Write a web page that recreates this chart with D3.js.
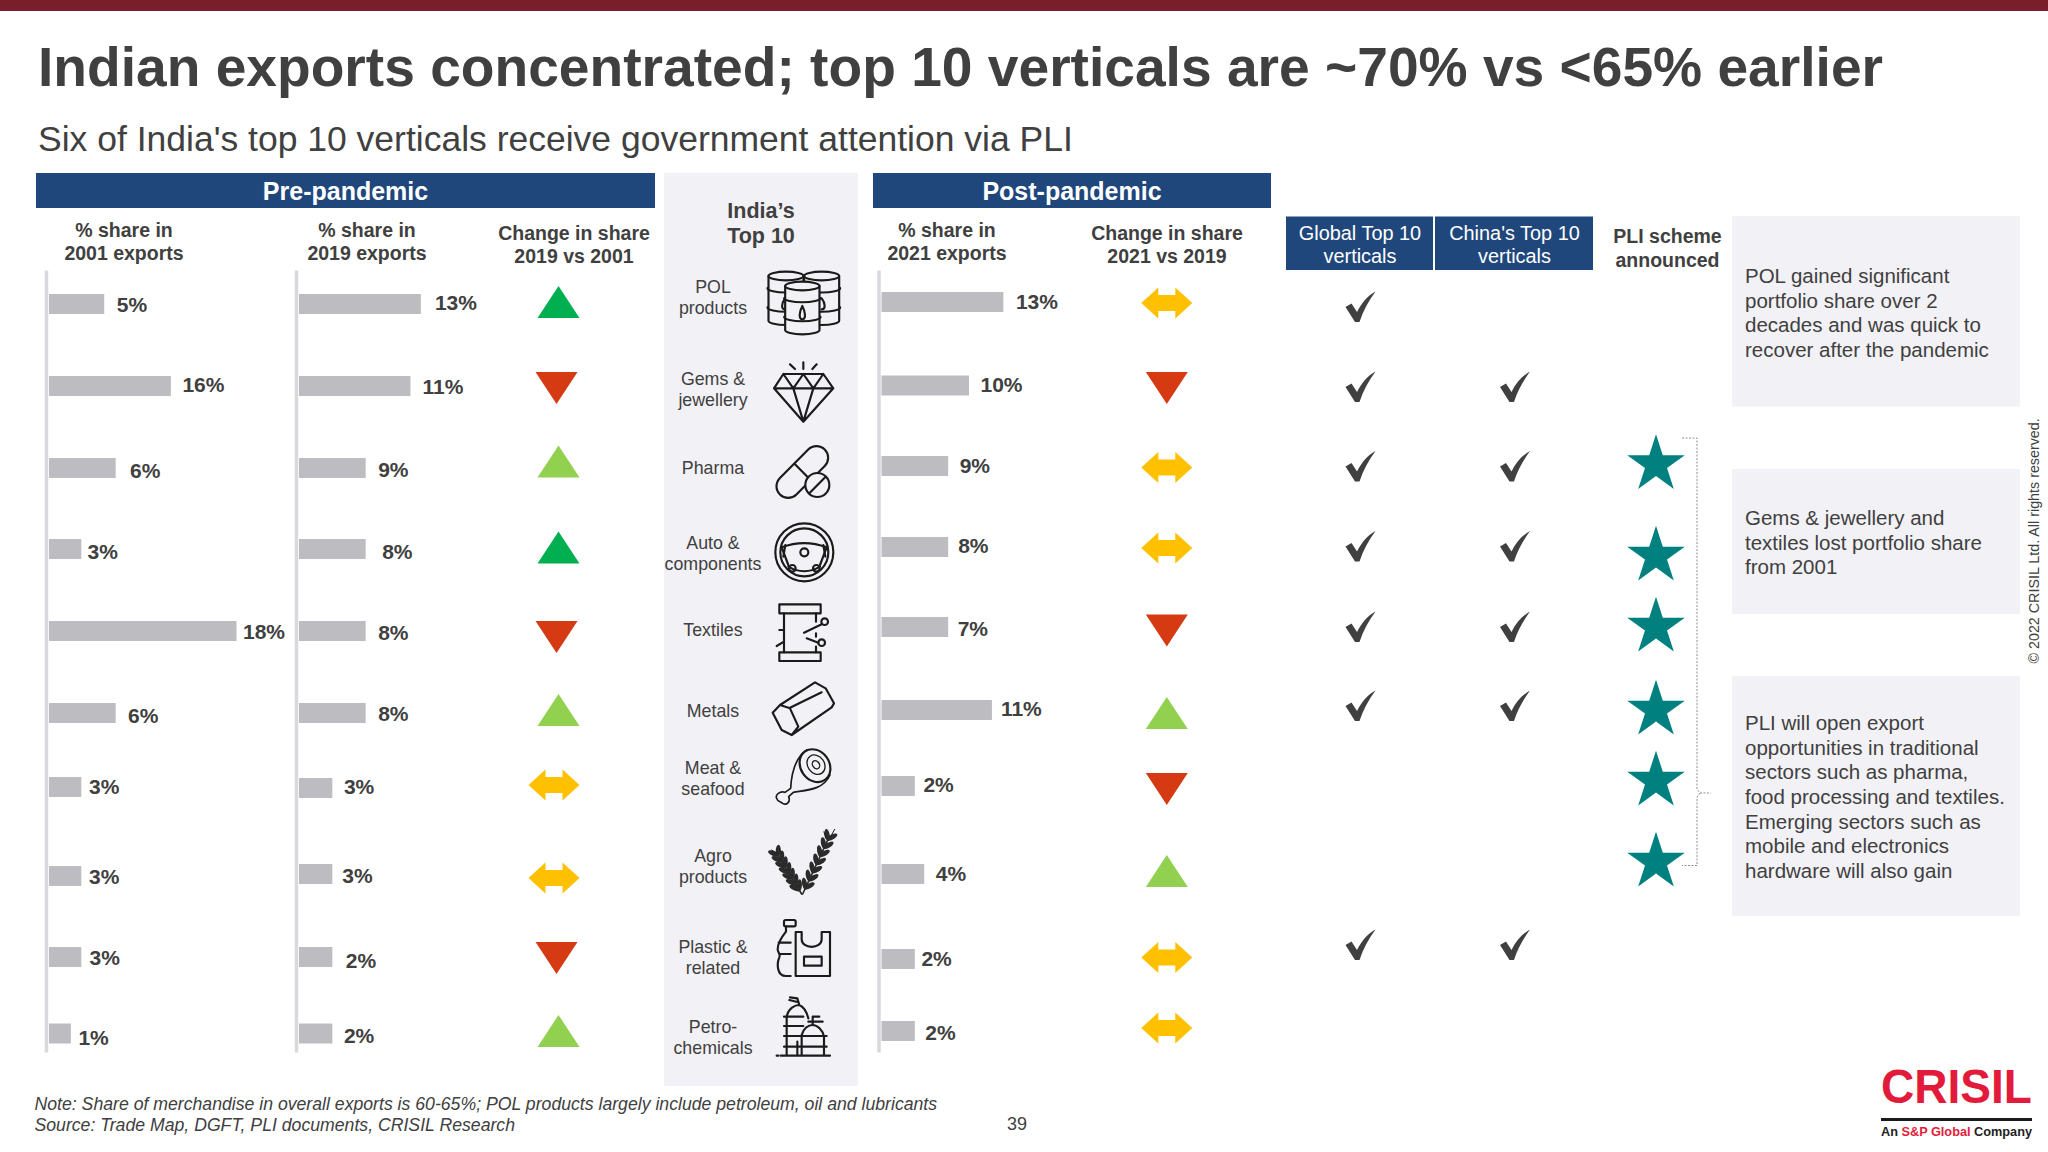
<!DOCTYPE html>
<html><head><meta charset="utf-8">
<script src="https://cdn.jsdelivr.net/npm/d3@7"></script>
<style>html,body{margin:0;padding:0;background:#fff}svg{display:block}text{font-family:"Liberation Sans",Arial,sans-serif}</style>
</head><body><div id="chart"></div>
<script>
// ---------- data ----------
const verticals = ["POL products","Gems & jewellery","Pharma","Auto & components","Textiles","Metals","Meat & seafood","Agro products","Plastic & related","Petro-chemicals"];
const verticalLines = [["POL","products"],["Gems &","jewellery"],["Pharma"],["Auto &","components"],["Textiles"],["Metals"],["Meat &","seafood"],["Agro","products"],["Plastic &","related"],["Petro-","chemicals"]];
// printed labels
const label2001 = ["5%","16%","6%","3%","18%","6%","3%","3%","3%","1%"];
const label2019 = ["13%","11%","9%","8%","8%","8%","3%","3%","2%","2%"];
const label2021 = ["13%","10%","9%","8%","7%","11%","2%","4%","2%","2%"];
// bar lengths as drawn in the picture (the slide's bars are schematic), in % units
const drawn2001 = [5.3,11.7,6.4,3.1,18,6.4,3.1,3.1,3.1,2.1];
const drawn2019 = [11.7,10.7,6.4,6.4,6.4,6.4,3.2,3.2,3.2,3.2];
const drawn2021 = [11.7,8.4,6.4,6.4,6.4,10.6,3.2,4.1,3.2,3.2];
// change in share: up = strong gain, gain = mild gain, down = loss, flat = unchanged
const change2019 = ["up","down","gain","up","down","gain","flat","flat","down","gain"];
const change2021 = ["flat","down","flat","flat","down","gain","down","gain","flat","flat"];
const globalTop10 = [1,1,1,1,1,1,0,0,1,0];
const chinaTop10  = [0,1,1,1,1,1,0,0,1,0];
const pliScheme   = [0,0,1,1,1,1,1,1,0,0];
const notes = [
 ["POL gained significant","portfolio share over 2","decades and was quick to","recover after the pandemic"],
 ["Gems & jewellery and","textiles lost portfolio share","from 2001"],
 ["PLI will open export","opportunities in traditional","sectors such as pharma,","food processing and textiles.","Emerging sectors such as","mobile and electronics","hardware will also gain"]];

// ---------- layout ----------
const rows2001 = [304,386,468,549,631,713,787,876,957,1033.5];
const rows2019 = [304,386,468,549,631,713,788,874,957,1033.5];
const rows2021 = [302,385.5,466,547,627,710,786,874,959,1031];
const rowsChg19 = [302,388,461.6,547.4,637,710,785,878,958,1031];
const rowsChg21 = [303,388,467.5,548,630.5,713,789,871,957.5,1028];
const rowsCheck = [307,387,466.5,546.5,627,706,787,867,945,1026];
const rowsStar  = [300,380,462,553.5,624.5,707.5,778.5,859.5,946,1026];
const gap2001 = [12.5,11.5,14.4,6.3,6.5,12.4,7.8,7.8,8.3,7.5];
const gap2019 = [14,12,12.5,16.5,12.5,12.5,11.6,10,13.5,11.6];
const gap2021 = [12.5,11.5,11.5,10,9.5,9,8.6,11.6,6.6,10.5];
const dy2001 = [0,-2,2,2,0,2.6,-1,.5,0,3.5];
const dy2019 = [-2,.5,1,2,1.6,0,-2,1.4,3,1.5];
const dy2021 = [-1,-1.5,-.5,-1.4,1,-2,-2,-1,-1,1.7];
const nameBase = [[293,314],[385,406],[474],[549,570],[635.7],[716.7],[774,794.7],[862,883],[953,974],[1033,1054]];

const TXT="#404040", BLUE="#1f477c", PANEL="#f2f1f5", BAR="#bdbcc0", AXIS="#d9d8dd";
const svg = d3.select("#chart").append("svg").attr("width",2048).attr("height",1152).attr("viewBox","0 0 2048 1152");
function txt(g,x,y,s,o={}){return g.append("text").attr("x",x).attr("y",y).text(s)
  .attr("font-size",o.size||20).attr("font-weight",o.bold?"bold":"normal").attr("font-style",o.italic?"italic":"normal")
  .attr("fill",o.fill||TXT).attr("text-anchor",o.anchor||"start");}
function box(x0,y0,x1,y1,fill){svg.append("rect").attr("x",x0).attr("y",y0).attr("width",x1-x0).attr("height",y1-y0).attr("fill",fill);}

box(0,0,2048,11,"#7b1e2b");
txt(svg,38,86,"Indian exports concentrated; top 10 verticals are ~70% vs <65% earlier",{size:55.15,bold:true});
txt(svg,38,150.5,"Six of India's top 10 verticals receive government attention via PLI",{size:35.5});

box(36,173,655,208,BLUE); box(873,173,1271,208,BLUE); box(664,173,858,1086,PANEL);
txt(svg,345.5,199.5,"Pre-pandemic",{size:25,bold:true,fill:"#fff",anchor:"middle"});
txt(svg,1072,199.5,"Post-pandemic",{size:25,bold:true,fill:"#fff",anchor:"middle"});
function head(cx,lines,y0,o={}){lines.forEach((l,i)=>txt(svg,cx,y0+i*(o.lh||23),l,{size:o.size||19.5,bold:o.bold!==false,anchor:"middle",fill:o.fill}));}
head(124,["% share in","2001 exports"],237);
head(367,["% share in","2019 exports"],237);
head(947,["% share in","2021 exports"],237);
head(574,["Change in share","2019 vs 2001"],240);
head(1167,["Change in share","2021 vs 2019"],240);
head(761,["India\u2019s","Top 10"],217.7,{size:21.5,lh:25.5});
box(1286,216.5,1433,270,BLUE); box(1435,216.5,1593,270,BLUE);
head(1360,["Global Top 10","verticals"],239.5,{bold:false,fill:"#fff",size:19.9});
head(1514.5,["China's Top 10","verticals"],239.5,{bold:false,fill:"#fff",size:19.9});
head(1667.5,["PLI scheme","announced"],243,{lh:24});

// ---------- bar columns ----------
const lenScale = d3.scaleLinear().domain([0,18]).range([0,187.5]);
function barColumn(x0,rows,drawn,labels,gaps,dys){
  const y = d3.scaleOrdinal(verticals,rows);
  const lineY = d3.scaleLinear().domain([0,1]).range([270,1052]);
  const g = svg.append("g").attr("transform",`translate(${x0},0)`);
  const ax = g.append("g").attr("transform","translate(-3,0)").call(d3.axisLeft(lineY).tickValues([]).tickSizeOuter(0));
  ax.select("path").attr("stroke",AXIS).attr("stroke-width",3.5);
  g.selectAll("rect.bar").data(verticals).join("rect").attr("class","bar")
    .attr("x",0).attr("y",d=>y(d)-10).attr("height",20).attr("width",(d,i)=>lenScale(drawn[i])).attr("fill",BAR);
  g.selectAll("text.val").data(verticals).join("text").attr("class","val")
    .attr("x",(d,i)=>lenScale(drawn[i])+gaps[i]).attr("y",(d,i)=>y(d)+dys[i]+7.5)
    .attr("font-size",21).attr("font-weight","bold").attr("fill",TXT).text((d,i)=>labels[i]);
}
barColumn(49,rows2001,drawn2001,label2001,gap2001,dy2001);
barColumn(299,rows2019,drawn2019,label2019,gap2019,dy2019);
barColumn(881.5,rows2021,drawn2021,label2021,gap2021,dy2021);

// ---------- change markers ----------
const chgPath = {
  up:"M0,-16L21,16L-21,16Z", gain:"M0,-16L21,16L-21,16Z", down:"M-21,-16L21,-16L0,16Z",
  flat:"M-25.5,0L-8.5,-15.5L-8.5,-8L8.5,-8L8.5,-15.5L25.5,0L8.5,15.5L8.5,8L-8.5,8L-8.5,15.5Z"};
const chgFill = {up:"#00b050",gain:"#92d050",down:"#d53a13",flat:"#ffc000"};
const chgDx = {up:2,gain:2,down:0,flat:-2.5};
function chgColumn(cx,rows,vals,dxOn){
  const y = d3.scaleOrdinal(verticals,rows);
  svg.append("g").selectAll("path").data(verticals).join("path")
    .attr("d",(d,i)=>chgPath[vals[i]]).attr("fill",(d,i)=>chgFill[vals[i]])
    .attr("transform",(d,i)=>`translate(${cx+(dxOn?chgDx[vals[i]]:0)},${y(d)})`);
}
chgColumn(556.5,rowsChg19,change2019,true);
chgColumn(1166.8,rowsChg21,change2021,false);

// ---------- checks & stars ----------
const checkPath="M-15,0L-9,-3.5L-3.5,5C1,-4 7,-11 15,-15.5C8,-6 2.5,4 -1,15L-5.5,15Z";
function checks(cx,flags){
  const y=d3.scaleOrdinal(verticals,rowsCheck);
  svg.append("g").selectAll("path").data(verticals.filter((d,i)=>flags[i])).join("path")
    .attr("d",checkPath).attr("fill",TXT).attr("transform",d=>`translate(${cx},${y(d)})`);
}
checks(1360.5,globalTop10); checks(1515,chinaTop10);
const starSym=d3.symbol().type(d3.symbolStar).size(1030);
const yStar=d3.scaleOrdinal(verticals,rowsStar);
svg.append("g").selectAll("path").data(verticals.filter((d,i)=>pliScheme[i])).join("path")
  .attr("d",starSym()).attr("fill","#00807f").attr("transform",d=>`translate(1656,${yStar(d)+2.5})`);
svg.append("path").attr("d","M1682,438L1697,438L1697,789L1700,793L1697,797L1697,865.5L1682,865.5M1700,793L1711,793")
  .attr("fill","none").attr("stroke","#8f8f8f").attr("stroke-width",1).attr("stroke-dasharray","2 1.5");

// ---------- notes ----------
box(1732,216,2020,406.7,PANEL); box(1732,469,2020,614,PANEL); box(1732,676,2020,916,PANEL);
[283,525,730.3].forEach((y0,k)=>notes[k].forEach((l,i)=>txt(svg,1745,y0+i*24.55,l,{size:20.5})));

// ---------- vertical names ----------
verticals.forEach((v,i)=>verticalLines[i].forEach((l,j)=>txt(svg,713,nameBase[i][j],l,{size:17.8,anchor:"middle"})));

// ---------- icons (decorative line art, drawn in a 3x local grid) ----------
const ink="#1b1b1b";
function iconLayer(oy){return svg.append("g").attr("transform",`translate(660,${oy}) scale(${1/3})`)
   .attr("fill","none").attr("stroke",ink).attr("stroke-width",6.5).attr("stroke-linejoin","round").attr("stroke-linecap","round");}
const A=iconLayer(170), B=iconLayer(620);
function barrel(g,cx,top,bot,w){
  const r=w/2, ry=13;
  g.append("path").attr("fill",PANEL).attr("d",`M${cx-r},${top+ry}A${r},${ry} 0 0 1 ${cx+r},${top+ry}L${cx+r},${bot-ry}A${r},${ry} 0 0 1 ${cx-r},${bot-ry}Z`);
  g.append("path").attr("d",`M${cx-r},${top+ry}A${r},${ry} 0 0 0 ${cx+r},${top+ry}`);
  [.36,.72].forEach(t=>{const y=top+(bot-top)*t;
    g.append("path").attr("d",`M${cx-r-3},${y-8}A${r+3},${ry} 0 0 0 ${cx+r+3},${y-8}`);});
}
barrel(A,378,305,465,105); barrel(A,485,305,465,105);
A.append("path").attr("d","M375,385C365,400 362,418 375,418M485,385C497,400 497,418 485,418");
barrel(A,427,335,493,103);
A.append("path").attr("d","M427,408C418,425 415,448 427,448C439,448 436,425 427,408Z");
// diamond
A.append("path").attr("d","M370,612L490,612L520,655L430,755L342,655ZM342,655L520,655M370,612L400,655L430,612L460,655L490,612M400,655L430,755L460,655M390,583L405,597M430,577L430,597M470,583L457,597");
// pills
A.append("rect").attr("x",332).attr("y",871).attr("width",190).attr("height",70).attr("rx",35).attr("transform","rotate(-45 427 906)");
A.append("path").attr("d","M405,883L445,923");
A.append("circle").attr("cx",472).attr("cy",945).attr("r",36).attr("fill",PANEL);
A.append("path").attr("d","M448,970L497,920");
// steering wheel
A.append("circle").attr("cx",433).attr("cy",1147).attr("r",87);
A.append("circle").attr("cx",433).attr("cy",1147).attr("r",72);
A.append("circle").attr("cx",433).attr("cy",1147).attr("r",12);
A.append("path").attr("d","M365,1132C410,1115 455,1115 500,1132L480,1185M365,1132L385,1185M385,1190C415,1208 450,1208 480,1190");
A.append("circle").attr("cx",397).attr("cy",1195).attr("r",10);
A.append("circle").attr("cx",469).attr("cy",1195).attr("r",10);
A.append("path").attr("d","M376,1125L370,1160M490,1125L496,1160");
// textiles
B.append("rect").attr("x",358).attr("y",-47).attr("width",124).attr("height",27);
B.append("rect").attr("x",358).attr("y",97).attr("width",124).attr("height",26);
B.append("path").attr("d","M372,-20L372,97M468,-20L468,5M468,40L468,50M468,80L468,97M358,30L372,30M350,78L372,65M432,38L485,13M440,55L475,68");
B.append("circle").attr("cx",494).attr("cy",5).attr("r",10);
B.append("circle").attr("cx",485).attr("cy",68).attr("r",10);
// metals
B.append("path").attr("d","M338,278L360,255L465,187L497,205L522,250L515,262L395,345L365,330ZM360,255L390,265L415,320L395,345M390,263L485,217");
// meat
B.append("ellipse").attr("cx",465).attr("cy",437).attr("rx",43).attr("ry",52).attr("transform","rotate(-35 465 437)");
B.append("ellipse").attr("cx",468).attr("cy",434).attr("rx",25).attr("ry",31).attr("stroke-width",4).attr("transform","rotate(-35 468 434)");
B.append("ellipse").attr("cx",468).attr("cy",434).attr("rx",10).attr("ry",13).attr("stroke-width",4).attr("transform","rotate(-35 468 434)");
B.append("path").attr("stroke-width",5).attr("d","M440,390C410,410 395,450 392,505L375,517C360,512 345,525 350,535C352,545 362,545 368,550C380,558 392,545 386,530L400,517C440,510 490,510 510,465");
// wheat
function wheat(x0,y0,x1,y1,n){
  const ang=Math.atan2(y1-y0,x1-x0)*180/Math.PI;
  B.append("path").attr("stroke-width",5).attr("stroke","#2b2b2b").attr("d",`M${x0},${y0}L${x1},${y1}`);
  d3.range(n).forEach(k=>{const t=.1+.85*k/(n-1), x=x0+(x1-x0)*t, y=y0+(y1-y0)*t;
    [-1,1].forEach(s=>B.append("ellipse").attr("cx",0).attr("cy",0).attr("rx",18).attr("ry",7.5)
       .attr("fill","#2b2b2b").attr("stroke","none")
       .attr("transform",`translate(${x},${y}) rotate(${ang+s*35}) translate(14,0)`));});
}
wheat(428,822,508,650,7); wheat(425,822,350,700,7);
B.append("path").attr("stroke-width",3).attr("d","M512,650L524,628M497,655L492,635M350,700L335,690M362,695L358,685");
// plastic
B.append("rect").attr("x",372).attr("y",900).attr("width",35).attr("height",19).attr("rx",5);
B.append("path").attr("d","M378,920L378,935C370,945 353,965 353,988C353,1000 363,1000 358,1012C350,1030 350,1068 378,1068L392,1068M356,968L392,968M360,1002L392,1002");
B.append("path").attr("d","M407,1068L407,936L425,936L425,958C425,988 485,988 485,958L485,936L510,936L510,1068Z");
B.append("rect").attr("x",432).attr("y",1010).attr("width",53).attr("height",27);
// petrochemicals
B.append("path").attr("d","M362,1307L510,1307M350,1307L355,1307M380,1307L380,1190C385,1165 405,1155 418,1155C430,1160 440,1175 445,1195M412,1307L412,1265M418,1155L412,1135L390,1132M388,1140L412,1146M425,1307L425,1245C430,1225 445,1215 458,1215C472,1215 488,1230 492,1250L492,1307M458,1215L458,1190L478,1190M445,1205L488,1205M372,1190L430,1190M372,1218L430,1218M372,1248L500,1248M372,1280L500,1280");

// ---------- footer ----------
txt(svg,34.5,1110.2,"Note: Share of merchandise in overall exports is 60-65%; POL products largely include petroleum, oil and lubricants",{size:17.67,italic:true});
txt(svg,34.5,1130.7,"Source: Trade Map, DGFT, PLI documents, CRISIL Research",{size:17.67,italic:true});
txt(svg,1017,1130,"39",{size:18,anchor:"middle"});
svg.append("text").text("\u00a9 2022 CRISIL Ltd. All rights reserved.").attr("transform","translate(2039,663.5) rotate(-90)")
  .attr("font-size",14.3).attr("fill",TXT);
txt(svg,1881,1103,"CRISIL",{size:49,bold:true,fill:"#e31b3a"}).attr("textLength",151).attr("lengthAdjust","spacingAndGlyphs");
box(1881,1118,2032,1121,"#1a1a1a");
const co=txt(svg,1881,1136,"An ",{size:13,bold:true,fill:"#222"});
co.attr("textLength",151).attr("lengthAdjust","spacingAndGlyphs");
co.append("tspan").attr("fill","#e31b3a").text("S&P Global");
co.append("tspan").text(" Company");
</script></body></html>
